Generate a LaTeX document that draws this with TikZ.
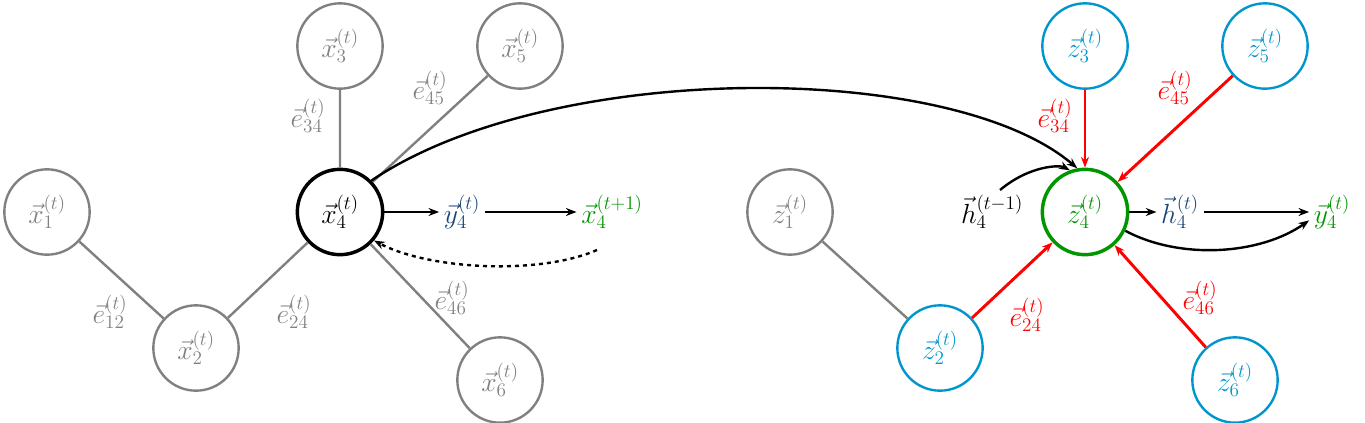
\documentclass[tikz,border=0pt]{standalone}
\usetikzlibrary{arrows.meta}
\definecolor{gr}{RGB}{128,128,128}
\definecolor{cy}{RGB}{0,150,205}
\definecolor{gn}{RGB}{0,150,0}
\definecolor{db}{RGB}{25,70,120}
\begin{document}
\begin{tikzpicture}[x=0.75pt,y=-0.75pt,font=\huge,
 nd/.style={circle,draw=gr,text=gr,line width=1.8pt,minimum size=64pt,inner sep=0pt},
 zn/.style={circle,draw=cy,text=cy,line width=1.8pt,minimum size=64pt,inner sep=0pt},
 ge/.style={draw=gr,line width=1.8pt},
 re/.style={draw=red,line width=2.2pt,-{Stealth[length=8pt]}},
 ar/.style={line width=1.8pt,-{Stealth[length=8pt]}},
 el/.style={text=gr},
 rl/.style={text=red}]
\useasboundingbox (0,0) rectangle (1365,422);
\node[nd] (x1) at (47,212) {$\vec{x}_1^{(t)}$};
\node[nd] (x2) at (196,348) {$\vec{x}_2^{(t)}$};
\node[nd] (x3) at (340,46) {$\vec{x}_3^{(t)}$};
\node[nd,draw=black,text=black,line width=2.6pt] (x4) at (340,212) {$\vec{x}_4^{(t)}$};
\node[nd] (x5) at (520,46) {$\vec{x}_5^{(t)}$};
\node[nd] (x6) at (500,380) {$\vec{x}_6^{(t)}$};
\node[text=db] (y4) at (462,212) {$\vec{y}_4^{(t)}$};
\node[text=gn] (x4n) at (612,212) {$\vec{x}_4^{(t+1)}$};
\draw[ge] (x1)--(x2) (x2)--(x4) (x3)--(x4) (x4)--(x5) (x4)--(x6);
\node[el] at (110,312) {$\vec{e}_{12}^{(t)}$};
\node[el] at (294,312) {$\vec{e}_{24}^{(t)}$};
\node[el] at (308,116) {$\vec{e}_{34}^{(t)}$};
\node[el] at (430,88) {$\vec{e}_{45}^{(t)}$};
\node[el] at (452,298) {$\vec{e}_{46}^{(t)}$};
\draw[ar] (x4)--(y4);
\draw[ar] (y4)--(x4n);
\coordinate (ds) at (597,250);
\draw[ar,dashed] (ds) .. controls (540,275) and (430,270) .. (x4.-40);
\node[nd] (z1) at (790,212) {$\vec{z}_1^{(t)}$};
\node[zn] (z2) at (940,348) {$\vec{z}_2^{(t)}$};
\node[zn] (z3) at (1085,46) {$\vec{z}_3^{(t)}$};
\node[nd,draw=gn,text=gn,line width=2.6pt] (z4) at (1085,212) {$\vec{z}_4^{(t)}$};
\node[zn] (z5) at (1265,46) {$\vec{z}_5^{(t)}$};
\node[zn] (z6) at (1235,380) {$\vec{z}_6^{(t)}$};
\node (h0) at (992,212) {$\vec{h}_4^{(t-1)}$};
\node[text=db] (h4) at (1180,212) {$\vec{h}_4^{(t)}$};
\node[text=gn] (y4r) at (1332,212) {$\vec{y}_4^{(t)}$};
\draw[ge] (z1)--(z2);
\draw[re] (z2)--(z4);
\draw[re] (z3)--(z4);
\draw[re] (z5)--(z4);
\draw[re] (z6)--(z4);
\node[rl] at (1055,116) {$\vec{e}_{34}^{(t)}$};
\node[rl] at (1175,88) {$\vec{e}_{45}^{(t)}$};
\node[rl] at (1027,315) {$\vec{e}_{24}^{(t)}$};
\node[rl] at (1200,298) {$\vec{e}_{46}^{(t)}$};
\draw[ar] (x4.45) .. controls (550,60) and (950,60) .. (z4.100);
\coordinate (hs) at (1000,190);
\draw[ar] (hs) .. controls (1030,165) and (1060,165) .. (z4.110);
\draw[ar] (z4)--(h4);
\draw[ar] (h4)--(y4r);
\draw[ar] (z4.-25) .. controls (1180,260) and (1260,255) .. (y4r.200);
\end{tikzpicture}
\end{document}
